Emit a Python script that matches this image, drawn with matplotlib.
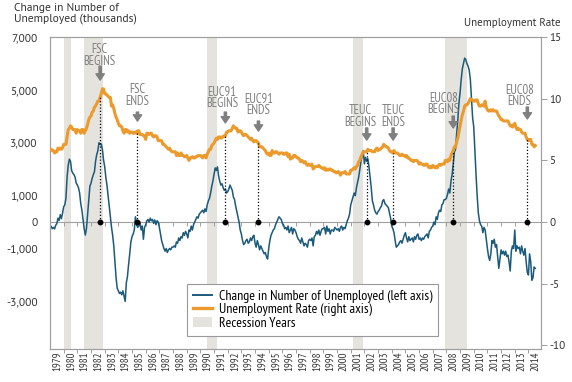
import numpy as np
import matplotlib
matplotlib.use('Agg')
import matplotlib.pyplot as plt
from matplotlib.lines import Line2D
from matplotlib.patches import Patch

plt.rcParams['font.family'] = ['PT Sans', 'DejaVu Sans']
plt.rcParams['axes.unicode_minus'] = False
NARROW = ['PT Sans Narrow', 'DejaVu Sans']

# ---------------- data (monthly, Jan 1979 - Jul 2014) ----------------
unemployment_rate = [
    5.9, 5.9, 5.8, 5.8, 5.6, 5.7, 5.7, 6.0, 5.9, 6.0, 5.9, 6.0,   # 1979
    6.3, 6.3, 6.3, 6.9, 7.5, 7.6, 7.8, 7.7, 7.5, 7.5, 7.5, 7.2,   # 1980
    7.5, 7.4, 7.4, 7.2, 7.5, 7.5, 7.2, 7.4, 7.6, 7.9, 8.3, 8.5,   # 1981
    8.6, 8.9, 9.0, 9.3, 9.4, 9.6, 9.8, 9.8, 10.1, 10.4, 10.8, 10.8,  # 1982
    10.4, 10.4, 10.3, 10.2, 10.1, 10.1, 9.4, 9.5, 9.2, 8.8, 8.5, 8.3,  # 1983
    8.0, 7.8, 7.8, 7.7, 7.4, 7.2, 7.5, 7.5, 7.3, 7.4, 7.2, 7.3,   # 1984
    7.3, 7.2, 7.2, 7.3, 7.2, 7.4, 7.4, 7.1, 7.1, 7.1, 7.0, 7.0,   # 1985
    6.7, 7.2, 7.2, 7.1, 7.2, 7.2, 7.0, 6.9, 7.0, 7.0, 6.9, 6.6,   # 1986
    6.6, 6.6, 6.6, 6.3, 6.3, 6.2, 6.1, 6.0, 5.9, 6.0, 5.8, 5.7,   # 1987
    5.7, 5.7, 5.7, 5.4, 5.6, 5.4, 5.4, 5.6, 5.4, 5.4, 5.3, 5.3,   # 1988
    5.4, 5.2, 5.0, 5.2, 5.2, 5.3, 5.2, 5.2, 5.3, 5.3, 5.4, 5.4,   # 1989
    5.4, 5.3, 5.2, 5.4, 5.4, 5.2, 5.5, 5.7, 5.9, 5.9, 6.2, 6.3,   # 1990
    6.4, 6.6, 6.8, 6.7, 6.9, 6.9, 6.8, 6.9, 6.9, 7.0, 7.0, 7.3,   # 1991
    7.3, 7.4, 7.4, 7.4, 7.6, 7.8, 7.7, 7.6, 7.6, 7.3, 7.4, 7.4,   # 1992
    7.3, 7.1, 7.0, 7.1, 7.1, 7.0, 6.9, 6.8, 6.7, 6.8, 6.6, 6.5,   # 1993
    6.6, 6.6, 6.5, 6.4, 6.1, 6.1, 6.1, 6.0, 5.9, 5.8, 5.6, 5.5,   # 1994
    5.6, 5.4, 5.4, 5.8, 5.6, 5.6, 5.7, 5.7, 5.6, 5.5, 5.6, 5.6,   # 1995
    5.6, 5.5, 5.5, 5.6, 5.6, 5.3, 5.5, 5.1, 5.2, 5.2, 5.4, 5.4,   # 1996
    5.3, 5.2, 5.2, 5.1, 4.9, 5.0, 4.9, 4.8, 4.9, 4.7, 4.6, 4.7,   # 1997
    4.6, 4.6, 4.7, 4.3, 4.4, 4.5, 4.5, 4.5, 4.6, 4.5, 4.4, 4.4,   # 1998
    4.3, 4.4, 4.2, 4.3, 4.2, 4.3, 4.3, 4.2, 4.2, 4.1, 4.1, 4.0,   # 1999
    4.0, 4.1, 4.0, 3.8, 4.0, 4.0, 4.0, 4.1, 3.9, 3.9, 3.9, 3.9,   # 2000
    4.2, 4.2, 4.3, 4.4, 4.3, 4.5, 4.6, 4.9, 5.0, 5.3, 5.5, 5.7,   # 2001
    5.7, 5.7, 5.7, 5.9, 5.8, 5.8, 5.8, 5.7, 5.7, 5.7, 5.9, 6.0,   # 2002
    5.8, 5.9, 5.9, 6.0, 6.1, 6.3, 6.2, 6.1, 6.1, 6.0, 5.8, 5.7,   # 2003
    5.7, 5.6, 5.8, 5.6, 5.6, 5.6, 5.5, 5.4, 5.4, 5.5, 5.4, 5.4,   # 2004
    5.3, 5.4, 5.2, 5.2, 5.1, 5.0, 5.0, 4.9, 5.0, 5.0, 5.0, 4.9,   # 2005
    4.7, 4.8, 4.7, 4.7, 4.6, 4.6, 4.7, 4.7, 4.5, 4.4, 4.5, 4.4,   # 2006
    4.6, 4.5, 4.4, 4.5, 4.4, 4.6, 4.7, 4.6, 4.7, 4.7, 4.7, 5.0,   # 2007
    5.0, 4.9, 5.1, 5.0, 5.4, 5.6, 5.8, 6.1, 6.1, 6.5, 6.8, 7.3,   # 2008
    7.8, 8.3, 8.7, 9.0, 9.4, 9.5, 9.5, 9.6, 9.8, 10.0, 9.9, 9.9,  # 2009
    9.8, 9.8, 9.9, 9.9, 9.6, 9.4, 9.4, 9.5, 9.5, 9.4, 9.8, 9.3,   # 2010
    9.1, 9.0, 9.0, 9.1, 9.0, 9.1, 9.0, 9.0, 9.0, 8.8, 8.6, 8.5,   # 2011
    8.3, 8.3, 8.2, 8.2, 8.2, 8.2, 8.2, 8.0, 7.8, 7.8, 7.7, 7.9,   # 2012
    8.0, 7.7, 7.5, 7.6, 7.5, 7.5, 7.3, 7.2, 7.2, 7.2, 6.9, 6.7,   # 2013
    6.6, 6.7, 6.7, 6.3, 6.3, 6.1, 6.2,                            # 2014
]

change_unemployed = [
    -240, -160, -250, -200, -260, -120, -60, 150, 60, 280, 130, 330,            # 1979
    580, 650, 900, 1700, 2150, 2380, 2300, 1950, 1850, 1800, 1700, 1480,         # 1980
    1400, 1300, 1100, 700, 450, 100, -250, -490, -250, 300, 900, 1350,           # 1981
    1470, 1650, 1790, 1900, 2300, 2550, 2700, 3000, 2950, 2950, 2750, 2350,      # 1982
    2100, 1700, 1400, 1000, 600, 200, -200, -500, -900, -1500, -2100, -2500,     # 1983
    -2600, -2700, -2650, -2750, -2600, -2800, -3000, -2300, -2050, -1600, -1200, -750,  # 1984
    -550, -450, -300, 200, -100, -200, -150, 0, -300, -150, -650, -200,          # 1985
    -100, 50, 100, 0, 150, 50, 100, -50, 80, -100, 50, 0,                        # 1986
    -200, -450, -700, -850, -1000, -1100, -1000, -1150, -1050, -1000, -1050, -950,  # 1987
    -950, -900, -950, -750, -800, -600, -700, -550, -600, -400, -500, -350,      # 1988
    -450, -600, -300, -350, -150, -300, -100, 0, 100, 200, 150, 300,             # 1989
    350, 400, 450, 350, 500, 400, 650, 800, 900, 1100, 1350, 1550,               # 1990
    1800, 2050, 1950, 2090, 1750, 1550, 1400, 1450, 1300, 1200, 1250, 1100,      # 1991
    1150, 1250, 1400, 1300, 1200, 950, 850, 600, 400, 200, 0, -300,              # 1992
    -450, -700, -850, -800, -700, -650, -800, -750, -600, -700, -550, -500,      # 1993
    -800, -950, -700, -850, -1050, -900, -1000, -1100, -1200, -1150, -1300, -1400,  # 1994
    -1000, -700, -500, -400, -300, -250, -100, 0, 100, 200, 150, 100,            # 1995
    -50, -100, -250, -200, -300, -150, -400, -300, -200, -450, -250, -300,       # 1996
    -400, -550, -650, -700, -800, -600, -750, -900, -800, -850, -950, -700,      # 1997
    -650, -700, -600, -900, -550, -500, -350, -450, -300, -500, -350, -250,      # 1998
    -250, -200, -450, -150, -350, -250, -450, -300, -300, -350, -200, -250,      # 1999
    -300, -250, -350, -200, -150, -300, -200, -250, -100, 50, 150, 300,          # 2000
    650, 800, 950, 1100, 1000, 1300, 1500, 1700, 2000, 2300, 2500, 2700,         # 2001
    2200, 2450, 2300, 2400, 2100, 1700, 1300, 800, 650, 450, 350, 300,           # 2002
    400, 450, 550, 600, 800, 850, 700, 650, 600, 550, 350, 150,                  # 2003
    -150, -250, -400, -700, -950, -900, -850, -750, -700, -800, -650, -500,      # 2004
    -400, -600, -750, -550, -700, -650, -600, -750, -550, -650, -500, -450,      # 2005
    -650, -600, -700, -600, -650, -550, -500, -450, -600, -350, -300, -200,      # 2006
    -150, 0, -100, 200, 100, 350, 450, 400, 650, 700, 850, 850,                  # 2007
    900, 1050, 1250, 1100, 1550, 1800, 2200, 2650, 2750, 3350, 3850, 4500,       # 2008
    4900, 5400, 5800, 6000, 6200, 6150, 6000, 5900, 5750, 5400, 4700, 3950,      # 2009
    3600, 2700, 1800, 1000, 350, 50, -100, -150, -400, -200, -300, -650,         # 2010
    -1000, -1300, -1450, -1200, -700, -800, -650, -950, -850, -1300, -1750, -1400,  # 2011
    -1050, -1200, -1100, -1250, -1100, -1300, -1250, -1500, -1850, -1100, -900, -1000,  # 2012
    -300, -1100, -900, -1000, -950, -1200, -900, -1100, -1250, -1000, -1500, -1900,  # 2013
    -2000, -1200, -1500, -2200, -2100, -1700, -1750,                               # 2014
]

first_year = 1979
recession_starts = [1980.0, 1981.5, 1990.5, 2001.2, 2007.9]
recession_ends = [1980.55, 1982.9, 1991.2, 2001.9, 2009.5]

event_labels = ['FSC\nBEGINS', 'FSC\nENDS', 'EUC91\nBEGINS', 'EUC91\nENDS',
                'TEUC\nBEGINS', 'TEUC\nENDS', 'EUC08\nBEGINS', 'EUC08\nENDS']
event_times = [1982.67, 1985.4, 1991.83, 1994.25, 2002.17, 2004.1, 2008.5, 2013.92]

year_labels = [str(y) for y in range(1979, 2015)]
left_ticks = [-3000, -1000, 0, 1000, 3000, 5000, 7000]
right_ticks = [-10, -5, 0, 5, 10, 15]

# ---------------- styling ----------------
BLUE = '#1b5a7a'
ORANGE = '#ec9a2c'
REC = '#e4e3de'
SPINE = '#a0a0a0'
TXT = '#333333'
ANN = '#7f7f7f'

# layout-only (text / arrow placement)
ann_text_y = [6300, 4780, 4690, 4430, 3990, 3990, 4460, 4770]
ann_text_dx = [-0.07, -0.02, -0.25, 0.0, -0.5, 0.0, -0.72, -0.6]
ann_tail_y = [5900, 4160, 4160, 3820, 3560, 3560, 4010, 4350]
ann_tip_y = [5370, 3820, 3750, 3440, 3100, 3100, 3560, 3900]

t = first_year + np.arange(len(unemployment_rate)) / 12.0

fig = plt.figure(figsize=(5.72, 3.82), dpi=100)
ax = fig.add_axes([50 / 572, 33 / 382, 491 / 572, 312 / 382])
ax.set_xlim(1979.0, 2014.92)
ymin, ymax = -4800, 7000
ax.set_ylim(ymin, ymax)
ax2 = ax.twinx()
ax2.set_ylim(ymin * 15 / 7000, 15)

for s, e in zip(recession_starts, recession_ends):
    ax.axvspan(s, e, color=REC, lw=0, zorder=0)

# zero line with year ticks
sec = ax.secondary_xaxis((0 - ymin) / (ymax - ymin))
sec.set_xticks(np.arange(1980, 2015))
sec.xaxis.set_ticks_position('bottom')
sec.tick_params(axis='x', direction='out', length=3, color=SPINE, width=0.7,
                labelbottom=False, labeltop=False)
for sp in sec.spines.values():
    sp.set_color(SPINE)
    sp.set_linewidth(0.8)

ax.plot(t, change_unemployed, color=BLUE, lw=1.1, zorder=3)
ax2.plot(t, unemployment_rate, color=ORANGE, lw=2.2, zorder=3, solid_joinstyle='round')

for lab, te, ty, dx, tl, tp in zip(event_labels, event_times, ann_text_y, ann_text_dx,
                                   ann_tail_y, ann_tip_y):
    idx = int(round((te - first_year) * 12))
    r = unemployment_rate[idx]
    ax2.plot([te, te], [0, r], color='black', ls=(0, (1, 1.6)), lw=0.9, zorder=4)
    ax2.plot([te], [0], 'o', ms=3.2, color='black', zorder=5)
    ax.annotate('', xy=(te, tp), xytext=(te, tl),
                arrowprops=dict(arrowstyle='simple,head_length=0.45,head_width=0.6,tail_width=0.16',
                                color=ANN, shrinkA=0, shrinkB=0, mutation_scale=10), zorder=5)
    ax.text(te + dx, ty, lab, ha='center', va='center', color=ANN, fontsize=9,
            family=NARROW, linespacing=0.85, zorder=5)

# x axis
ax.set_xticks(np.arange(1979, 2015) + 0.5)
ax.set_xticklabels(year_labels, rotation=90, fontsize=7.8, family=NARROW, color=TXT)
ax.set_xticks(np.arange(1980, 2015), minor=True)
ax.tick_params(axis='x', which='major', length=0, pad=2)
ax.tick_params(axis='x', which='minor', length=3, color=SPINE, width=0.7)

# left axis
ax.set_yticks(left_ticks)
ax.set_yticklabels([f'{v:,}' for v in left_ticks], fontsize=8.2, color=TXT)
ax.tick_params(axis='y', length=0, pad=9)

# right axis
ax2.set_yticks(right_ticks)
ax2.set_yticklabels([str(v) for v in right_ticks], fontsize=8, color=TXT)
ax2.tick_params(axis='y', length=4, color=SPINE, width=0.7, pad=2)

for a in (ax, ax2):
    for sp in a.spines.values():
        sp.set_color(SPINE)
        sp.set_linewidth(0.8)

fig.text(14 / 572, 1 - 3 / 382, 'Change in Number of\nUnemployed (thousands)', ha='left', va='top',
         fontsize=8.3, color=TXT, linespacing=1.05)
fig.text(561 / 572, 1 - 23 / 382, 'Unemployment Rate', ha='right', va='center',
         fontsize=7.9, color=TXT)

handles = [Line2D([], [], color=BLUE, lw=1.4),
           Line2D([], [], color=ORANGE, lw=2.4),
           Patch(facecolor=REC, edgecolor='none')]
labels = ['Change in Number of Unemployed (left axis)',
          'Unemployment Rate (right axis)',
          'Recession Years']
leg = ax2.legend(handles, labels, loc='upper left', bbox_to_anchor=(0.279, 0.208),
                 borderaxespad=0, frameon=True, fancybox=False, edgecolor='#999999',
                 framealpha=1, prop=dict(family=NARROW, size=10), handlelength=1.4,
                 handletextpad=0.5, labelspacing=0.05, borderpad=0.4)
leg.get_frame().set_linewidth(0.8)
leg.set_zorder(10)

fig.savefig('out.png', dpi=100)
